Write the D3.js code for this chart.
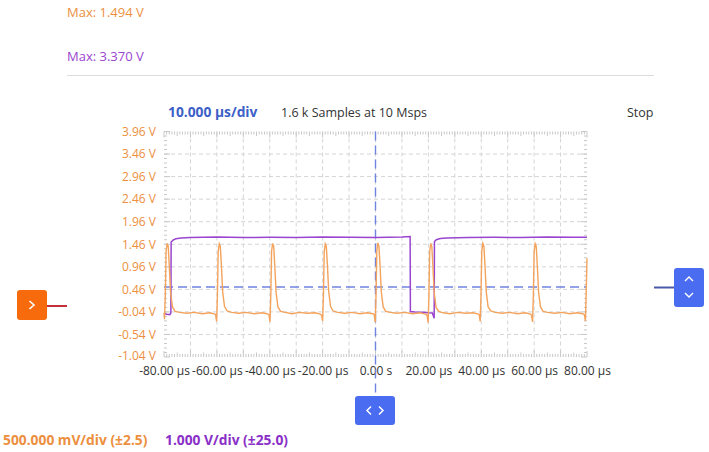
<!DOCTYPE html>
<html>
<head>
<meta charset="utf-8">
<script src="https://cdn.jsdelivr.net/npm/d3@7"></script>
<style>
  body { margin: 0; background: #fff; }
  svg { display: block; font-family: "Open Sans", sans-serif; }
</style>
</head>
<body>
<div id="scope"></div>
<script>
// Chart values
var yTicks = [-1.04, -0.54, -0.04, 0.46, 0.96, 1.46, 1.96, 2.46, 2.96, 3.46, 3.96];
var xTicks = [-80, -60, -40, -20, 0, 20, 40, 60, 80];
var xTickLabels = ["-80.00 µs", "-60.00 µs", "-40.00 µs", "-20.00 µs", "0.00 s", "20.00 µs", "40.00 µs", "60.00 µs", "80.00 µs"];
var ch1Max = "Max: 1.494 V";
var ch2Max = "Max: 3.370 V";
var timebase = "10.000 µs/div";
var sampleInfo = "1.6 k Samples at 10 Msps";
var runState = "Stop";
var ch1Scale = "500.000 mV/div (±2.5)";
var ch2Scale = "1.000 V/div (±25.0)";
var ch2Domain = [-2, 8];

// channel 1 (orange), [time µs, volts]
var ch1 = [
  [-80.0,-0.06],[-79.8,-0.20],[-79.5,0.35],[-79.2,1.32],[-78.8,1.48],[-78.4,1.41],[-78.0,0.98],[-77.5,0.38],[-76.8,0.07],[-75.8,-0.03],[-74.1,-0.05],[-71.5,-0.07],[-68.6,-0.05],[-65.5,-0.08],[-62.6,-0.06],[-60.8,-0.09],
  [-60.5,-0.10],[-60.1,-0.25],[-59.8,0.30],[-59.5,1.30],[-59.1,1.47],[-58.7,1.42],[-58.3,1.00],[-57.8,0.40],[-57.1,0.08],[-56.1,-0.02],[-54.4,-0.05],[-51.8,-0.07],[-49.0,-0.05],[-45.9,-0.08],[-43.0,-0.06],[-41.0,-0.08],
  [-40.3,-0.10],[-39.9,-0.26],[-39.6,0.32],[-39.3,1.31],[-38.9,1.48],[-38.5,1.41],[-38.1,0.99],[-37.6,0.39],[-36.9,0.07],[-35.9,-0.03],[-34.2,-0.05],[-31.6,-0.08],[-28.7,-0.05],[-25.8,-0.07],[-22.9,-0.06],[-20.9,-0.09],
  [-20.4,-0.11],[-20.0,-0.24],[-19.7,0.30],[-19.4,1.29],[-19.0,1.47],[-18.6,1.42],[-18.2,1.01],[-17.7,0.41],[-17.0,0.08],[-16.0,-0.02],[-14.3,-0.05],[-11.7,-0.07],[-8.8,-0.05],[-5.9,-0.08],[-3.0,-0.06],[-1.0,-0.08],
  [-0.5,-0.10],[-0.1,-0.27],[0.2,0.33],[0.5,1.32],[0.9,1.49],[1.3,1.42],[1.7,1.00],[2.2,0.40],[2.9,0.07],[3.9,-0.03],[5.6,-0.05],[8.2,-0.07],[11.1,-0.05],[14.0,-0.08],[16.9,-0.06],[18.9,-0.09],
  [19.5,-0.11],[19.9,-0.28],[20.2,0.30],[20.5,1.30],[20.9,1.48],[21.3,1.41],[21.7,0.99],[22.2,0.39],[22.9,0.06],[23.9,-0.03],[25.6,-0.06],[28.2,-0.08],[31.1,-0.05],[34.0,-0.07],[36.9,-0.06],[38.9,-0.09],
  [39.2,-0.10],[39.6,-0.25],[39.9,0.31],[40.2,1.31],[40.6,1.48],[41.0,1.42],[41.4,1.00],[41.9,0.40],[42.6,0.07],[43.6,-0.02],[45.3,-0.05],[47.9,-0.07],[50.8,-0.05],[53.7,-0.08],[56.6,-0.06],[58.6,-0.09],
  [59.0,-0.11],[59.4,-0.26],[59.7,0.32],[60.0,1.30],[60.4,1.47],[60.8,1.41],[61.2,0.99],[61.7,0.39],[62.4,0.07],[63.4,-0.03],[65.1,-0.05],[67.7,-0.07],[70.6,-0.05],[73.5,-0.08],[76.4,-0.06],[78.4,-0.08],
  [79.0,-0.10],[79.4,-0.24],[79.7,0.40],[80.0,1.15]
];

// channel 2 (purple), [time µs, volts]
var ch2 = [
  [-80.0,-0.06],[-79.0,-0.10],[-77.8,-0.12],[-77.4,-0.05],[-77.3,3.10],[-76.6,3.18],[-75.5,3.24],[-73.5,3.28],[-70,3.30],[-60,3.32],
  [-50,3.30],[-40,3.31],[-30,3.30],[-20,3.32],[-10,3.31],[0,3.30],[10,3.32],[13.1,3.34],[13.2,0.02],[15,0.00],[18,-0.02],
  [20,-0.04],[21.5,-0.05],[22.0,-0.22],[22.2,-0.28],[22.3,3.12],[23.0,3.20],[24.5,3.25],[27,3.28],[35,3.30],[45,3.31],
  [55,3.30],[65,3.32],[75,3.31],[80,3.31]
];

var W = 709, H = 452;
var plot = { left: 164, right: 587, top: 131.5, bottom: 357 };
var orange = "#ec8f3e", purple = "#9a45cf", blue = "#4a6cf0";

var svg = d3.select("#scope").append("svg")
    .attr("width", W)
    .attr("height", H);

var x = d3.scaleLinear().domain([-80, 80]).range([plot.left, plot.right]);
var y = d3.scaleLinear().domain([-1.04, 3.96]).range([plot.bottom, plot.top]);
var y2 = d3.scaleLinear().domain(ch2Domain).range([plot.bottom, plot.top]);

// Header texts
svg.append("text").attr("x", 67).attr("y", 16.5).style("font-size", "13px").attr("fill", orange).text(ch1Max);
svg.append("text").attr("x", 67).attr("y", 61).style("font-size", "13px").attr("fill", purple).text(ch2Max);
svg.append("line").attr("x1", 67).attr("x2", 654).attr("y1", 75.5).attr("y2", 75.5).attr("stroke", "#ddd");

svg.append("text").attr("x", 168).attr("y", 117).style("font-size", "13.8px").style("font-weight", "bold")
   .attr("fill", "#3d5fc8").text(timebase);
svg.append("text").attr("x", 281).attr("y", 117).style("font-size", "12.5px").attr("fill", "#333").text(sampleInfo);
svg.append("text").attr("x", 627).attr("y", 117).style("font-size", "12.5px").attr("fill", "#333").text(runState);

// Grid lines (dashed) at every division
var grid = svg.append("g").attr("stroke", "#d4d4d4").attr("stroke-dasharray", "4,3");
grid.selectAll("vline").data(xTicks.slice(1, -1).concat([-70, -50, -30, -10, 10, 30, 50, 70]))
    .enter().append("line")
    .attr("x1", function(d) { return x(d); })
    .attr("x2", function(d) { return x(d); })
    .attr("y1", plot.top).attr("y2", plot.bottom);
grid.selectAll("hline").data(yTicks.slice(1, -1))
    .enter().append("line")
    .attr("x1", plot.left).attr("x2", plot.right)
    .attr("y1", function(d) { return y(d); })
    .attr("y2", function(d) { return y(d); });

// Minor ticks along the plot edges
var minor = svg.append("g").attr("stroke", "#c8c8c8");
var xMinor = d3.range(-80, 80.01, 1);
var yMinor = d3.range(0, 50.01, 1).map(function(i) { return -1.04 + i * 0.1; });
xMinor.forEach(function(t, i) {
    var len = (i % 10 == 0) ? 6 : (i % 5 == 0 ? 4.5 : 3);
    minor.append("line").attr("x1", x(t)).attr("x2", x(t)).attr("y1", plot.top).attr("y2", plot.top + len);
    minor.append("line").attr("x1", x(t)).attr("x2", x(t)).attr("y1", plot.bottom).attr("y2", plot.bottom - len);
});
yMinor.forEach(function(v, i) {
    var len = (i % 5 == 0) ? 6 : 3;
    minor.append("line").attr("x1", plot.left).attr("x2", plot.left + len).attr("y1", y(v)).attr("y2", y(v));
    minor.append("line").attr("x1", plot.right).attr("x2", plot.right - len).attr("y1", y(v)).attr("y2", y(v));
});

// Axes
var yAxis = d3.axisLeft(y)
    .tickValues(yTicks)
    .tickSize(0)
    .tickPadding(0)
    .tickFormat(function(d) { return d.toFixed(2) + " V"; });
var gy = svg.append("g")
    .attr("transform", "translate(156,0)")
    .call(yAxis);
gy.select(".domain").remove();
gy.selectAll("text").style("font-size", "12px").style("font-family", "Open Sans").attr("fill", orange);
// keep the bottom label clear of the time labels
gy.selectAll(".tick text").filter(function(d) { return d == yTicks[0]; }).attr("dy", "0.2em");

var xAxis = d3.axisBottom(x)
    .tickValues(xTicks)
    .tickSize(0)
    .tickPadding(0)
    .tickFormat(function(d, i) { return xTickLabels[i]; });
var gx = svg.append("g")
    .attr("transform", "translate(0,366)")
    .call(xAxis);
gx.select(".domain").remove();
gx.selectAll("text").style("font-size", "12px").style("font-family", "Open Sans").attr("fill", "#333");

// Trigger / offset cursor lines
svg.append("line")
   .attr("x1", plot.left).attr("x2", plot.right)
   .attr("y1", 287).attr("y2", 287)
   .attr("stroke", "#7083e2").attr("stroke-width", 1.6).attr("stroke-dasharray", "9,5");
svg.append("line")
   .attr("x1", x(0)).attr("x2", x(0))
   .attr("y1", plot.top).attr("y2", 396)
   .attr("stroke", "#7083e2").attr("stroke-width", 1.4).attr("stroke-dasharray", "9,5");

// Traces
var line1 = d3.line().x(function(d) { return x(d[0]); }).y(function(d) { return y(d[1]); });
var line2 = d3.line().x(function(d) { return x(d[0]); }).y(function(d) { return y2(d[1]); });

svg.append("path").datum(ch2)
   .attr("d", line2).attr("fill", "none")
   .attr("stroke", purple).attr("stroke-width", 1.5);
svg.append("path").datum(ch1)
   .attr("d", line1).attr("fill", "none")
   .attr("stroke", "#f4a35c").attr("stroke-width", 1.4);

// Channel marker (left)
svg.append("line").attr("x1", 47).attr("x2", 67).attr("y1", 306).attr("y2", 306)
   .attr("stroke", "#c2303a").attr("stroke-width", 2);
svg.append("rect").attr("x", 17).attr("y", 290).attr("width", 30).attr("height", 30).attr("rx", 3)
   .attr("fill", "#f76b0c");
svg.append("path").attr("d", "M29.5,301 L34,305 L29.5,309")
   .attr("fill", "none").attr("stroke", "#fff").attr("stroke-width", 1.6);

// Offset marker (right)
svg.append("line").attr("x1", 654).attr("x2", 674).attr("y1", 287.5).attr("y2", 287.5)
   .attr("stroke", "#4a5aa8").attr("stroke-width", 2);
svg.append("rect").attr("x", 674).attr("y", 268).attr("width", 30).attr("height", 39).attr("rx", 3)
   .attr("fill", blue);
svg.append("path").attr("d", "M685,281 L689,277 L693,281 M685,293 L689,297 L693,293")
   .attr("fill", "none").attr("stroke", "#fff").attr("stroke-width", 1.4);

// Time position marker (bottom)
svg.append("rect").attr("x", 355).attr("y", 396).attr("width", 40).attr("height", 29).attr("rx", 3)
   .attr("fill", blue);
svg.append("path").attr("d", "M371,406.5 L367,410.5 L371,414.5 M379,406.5 L383,410.5 L379,414.5")
   .attr("fill", "none").attr("stroke", "#fff").attr("stroke-width", 1.5);

// Channel scales (bottom)
svg.append("text").attr("x", 3).attr("y", 444.5).style("font-size", "13.8px").style("font-weight", "bold")
   .attr("fill", orange).text(ch1Scale);
svg.append("text").attr("x", 165).attr("y", 444.5).style("font-size", "13.8px").style("font-weight", "bold")
   .attr("fill", "#8a2fc8").text(ch2Scale);
</script>
</body>
</html>
